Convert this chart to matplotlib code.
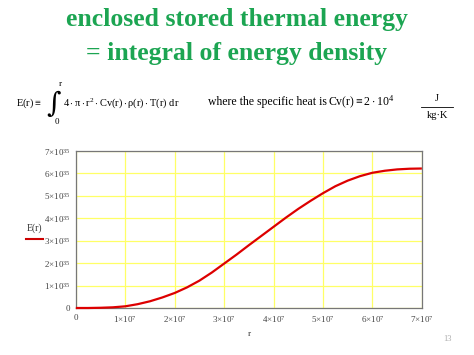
import matplotlib
matplotlib.use("Agg")
import matplotlib.pyplot as plt
from matplotlib.ticker import FixedLocator

plt.rcParams['font.family'] = ['Liberation Serif', 'DejaVu Serif']
plt.rcParams['mathtext.fontset'] = 'custom'
plt.rcParams['mathtext.rm'] = 'Liberation Serif'
plt.rcParams['mathtext.it'] = 'Liberation Serif'

# values (r in 1e7, E in 1e35)
r_vals = [0, 0.25, 0.5, 0.75, 1.0, 1.25, 1.5, 1.75, 2.0, 2.25, 2.5, 2.75, 3.0, 3.25, 3.5,
          3.75, 4.0, 4.25, 4.5, 4.75, 5.0, 5.25, 5.5, 5.75, 6.0, 6.25, 6.5, 6.75, 7.0]
e_vals = [0, 0, 0.01, 0.03, 0.075, 0.17, 0.30, 0.47, 0.67, 0.92, 1.22, 1.58, 1.98, 2.38, 2.80,
          3.21, 3.62, 4.03, 4.42, 4.78, 5.12, 5.43, 5.68, 5.88, 6.03, 6.12, 6.18, 6.21, 6.22]
x_ticks = [0, 1, 2, 3, 4, 5, 6, 7]
y_ticks = [0, 1, 2, 3, 4, 5, 6, 7]

title_lines = ["enclosed stored thermal energy", "= integral of energy density"]
green = '#1ca552'

fig = plt.figure(figsize=(4.74, 3.55), dpi=100)

fig.text(0.5, 0.946, title_lines[0], ha='center', va='center', fontsize=18.5,
         fontweight='bold', color=green)
fig.text(0.5, 0.850, title_lines[1], ha='center', va='center', fontsize=18.5,
         fontweight='bold', color=green)

# formula line
fig.text(0.034, 0.71, r'$\mathrm{E(r)} \equiv$', ha='left', va='center', fontsize=7.5)
fig.text(0.112, 0.705, '\u222b', ha='center', va='center', fontsize=20, family='DejaVu Serif',
         fontweight='light')
fig.text(0.124, 0.762, 'r', ha='left', va='center', fontsize=6.5)
fig.text(0.115, 0.655, '0', ha='left', va='center', fontsize=6.5)
fig.text(0.132, 0.71, r'$4\cdot\pi\cdot \mathrm{r}^2\cdot \mathrm{Cv(r)}\cdot\rho\mathrm{(r)}\cdot \mathrm{T(r)\ dr}$',
         ha='left', va='center', fontsize=7.5)
fig.text(0.438, 0.712, 'where the specific heat is', ha='left', va='center', fontsize=8.5)
fig.text(0.692, 0.712, r'$\mathrm{Cv(r)} \equiv 2\cdot 10^4$', ha='left', va='center', fontsize=8.5)
fig.text(0.922, 0.722, 'J', ha='center', va='center', fontsize=7.5)
fig.add_artist(plt.Line2D([0.888, 0.956], [0.700, 0.700], color='black', lw=0.6))
fig.text(0.922, 0.675, 'kg·K', ha='center', va='center', fontsize=7.5)

ax = fig.add_axes([0.160, 0.1324, 0.730, 0.4422])
ax.plot(r_vals, e_vals, color='#dd0000', lw=1.6, solid_capstyle='butt', clip_on=False, zorder=3)
ax.set_xlim(0, 7)
ax.set_ylim(0, 7)
ax.xaxis.set_major_locator(FixedLocator(x_ticks))
ax.yaxis.set_major_locator(FixedLocator(y_ticks))
ax.set_xticklabels(['0'] + [r'$%d{\times}10^{7}$' % t for t in x_ticks[1:]])
ax.set_yticklabels(['0'] + [r'$%d{\times}10^{35}$' % t for t in y_ticks[1:]])
ax.tick_params(length=0, labelsize=6.5, labelcolor='#444444', pad=4)
ax.grid(True, color='#ffff66', lw=0.9)
for s in ax.spines.values():
    s.set_color('#777777')
    s.set_linewidth(0.9)

fig.text(0.527, 0.058, 'r', ha='center', va='center', fontsize=6.5, color='#333333')
fig.text(0.072, 0.357, 'E(r)', ha='center', va='center', fontsize=7, color='#333333')
fig.add_artist(plt.Line2D([0.055, 0.09], [0.328, 0.328], color='#cc0000', lw=1.5))
fig.text(0.945, 0.045, '13', ha='center', va='center', fontsize=6, color='#aaaaaa')

fig.savefig('out.png', dpi=100)
